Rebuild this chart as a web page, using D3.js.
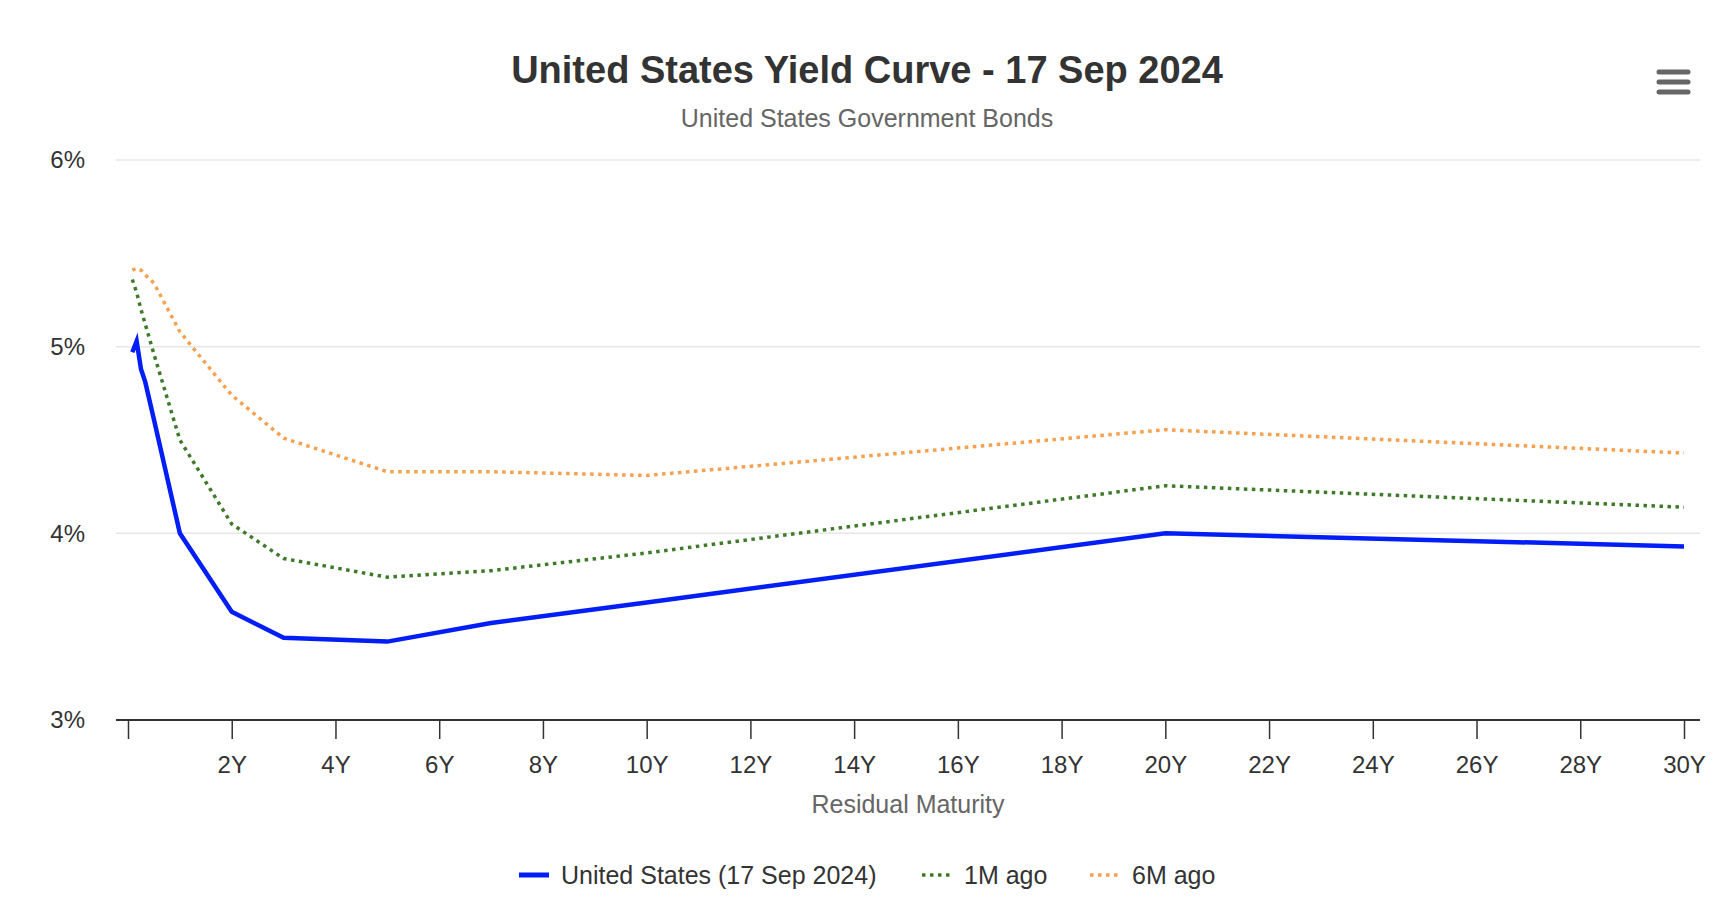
<!DOCTYPE html>
<head>
  <meta charset="utf-8">
  <style>
    body { margin: 0; background: #fff; font-family: 'Liberation Sans', Arial, Helvetica, sans-serif; }
  </style>
  <script src="https://cdn.jsdelivr.net/npm/d3@7"></script>
</head>
<body>
<div id=chart></div>
<script>
// residual maturity in years: 1M 2M 3M 4M 6M 1Y 2Y 3Y 5Y 7Y 10Y 20Y 30Y
const maturities = [1/12, 2/12, 3/12, 4/12, 6/12, 1, 2, 3, 5, 7, 10, 20, 30]
const yield_now = [4.97, 5.03, 4.88, 4.81, 4.61, 4.00, 3.58, 3.44, 3.42, 3.52, 3.63, 4.00, 3.93]
const yield_1m = [5.36, 5.29, 5.20, 5.12, 4.96, 4.50, 4.05, 3.865, 3.765, 3.80, 3.895, 4.255, 4.14]
const yield_6m = [5.41, 5.42, 5.41, 5.385, 5.34, 5.08, 4.74, 4.51, 4.33, 4.33, 4.31, 4.555, 4.43]
const x_ticks = d3.range(0, 31, 2)
const y_ticks = [3, 4, 5, 6]

const series = [
  { name: 'United States (17 Sep 2024)', values: yield_now, color: '#001ef5', width: 4.5, dash: null, legend_x: 519 },
  { name: '1M ago', values: yield_1m, color: '#3f7a2a', width: 3.5, dash: '3.5,4.5', legend_x: 922 },
  { name: '6M ago', values: yield_6m, color: '#f7a04e', width: 3.5, dash: '3.5,4.5', legend_x: 1090 },
]

const width = 1734, height = 902
const plot = { left: 116, right: 1700, top: 160, bottom: 720 }

const svg = d3.select('#chart').append('svg')
  .attr('width', width).attr('height', height)
  .attr('viewBox', [0, 0, width, height])

const x = d3.scaleLinear().domain([0, 30]).range([128, 1684])
const y = d3.scaleLinear().domain([3, 6]).range([plot.bottom, plot.top])

// title
svg.append('text')
  .attr('x', width / 2).attr('y', 70).attr('dy', '0.35em')
  .attr('text-anchor', 'middle').attr('fill', '#333')
  .style('font-size', '38px').style('font-weight', 'bold')
  .text('United States Yield Curve - 17 Sep 2024')
svg.append('text')
  .attr('x', width / 2).attr('y', 118).attr('dy', '0.35em')
  .attr('text-anchor', 'middle').attr('fill', '#666')
  .style('font-size', '25px')
  .text('United States Government Bonds')

// menu button
svg.append('g').selectAll('line').data([72, 82, 92]).join('line')
  .attr('x1', 1659).attr('x2', 1688).attr('y1', d => d).attr('y2', d => d)
  .attr('stroke', '#666').attr('stroke-width', 5).attr('stroke-linecap', 'round')

// grid + y labels
svg.append('g').selectAll('line').data(y_ticks.filter(d => d > 3)).join('line')
  .attr('x1', plot.left).attr('x2', plot.right)
  .attr('y1', d => y(d)).attr('y2', d => y(d))
  .attr('stroke', '#e6e6e6').attr('stroke-width', 1.5)
svg.append('g')
  .attr('transform', `translate(${plot.left - 31},0)`)
  .call(d3.axisLeft(y).tickValues(y_ticks).tickFormat(d => d + '%').tickSize(0))
  .call(g => g.select('.domain').remove())
  .call(g => g.selectAll('text').attr('x', 0).attr('fill', '#333')
    .style('font-size', '24px').style('font-family', 'Liberation Sans, Arial, sans-serif'))

// x axis
svg.append('line')
  .attr('x1', plot.left).attr('x2', plot.right)
  .attr('y1', plot.bottom).attr('y2', plot.bottom)
  .attr('stroke', '#333').attr('stroke-width', 2)
svg.append('g')
  .attr('transform', `translate(0,${plot.bottom})`)
  .call(d3.axisBottom(x).tickValues(x_ticks).tickFormat(d => d === 0 ? '' : d + 'Y').tickSize(19).tickPadding(17))
  .call(g => g.select('.domain').remove())
  .call(g => g.selectAll('.tick line').attr('stroke', '#333').attr('stroke-width', 1.5))
  .call(g => g.selectAll('text').attr('fill', '#333')
    .style('font-size', '24px').style('font-family', 'Liberation Sans, Arial, sans-serif'))
svg.append('text')
  .attr('x', 908).attr('y', 804).attr('dy', '0.35em')
  .attr('text-anchor', 'middle').attr('fill', '#666')
  .style('font-size', '25px')
  .text('Residual Maturity')

// lines, drawn back to front
const line = d3.line().x(d => x(d[0])).y(d => y(d[1]))
svg.append('g').selectAll('path').data(series.slice().reverse()).join('path')
  .attr('d', s => line(maturities.map((m, i) => [m, s.values[i]])))
  .attr('fill', 'none')
  .attr('stroke', s => s.color)
  .attr('stroke-width', s => s.width)
  .attr('stroke-dasharray', s => s.dash)
  .attr('stroke-linejoin', 'miter')

// legend
const legend = svg.append('g').selectAll('g').data(series).join('g')
  .attr('transform', s => `translate(${s.legend_x},875)`)
legend.append('line')
  .attr('x1', 0).attr('x2', 30)
  .attr('stroke', s => s.color)
  .attr('stroke-width', s => s.dash ? 3.5 : 5)
  .attr('stroke-dasharray', s => s.dash)
legend.append('text')
  .attr('x', 42).attr('dy', '0.35em').attr('fill', '#333')
  .style('font-size', '25px')
  .text(s => s.name)
</script>
</body>
